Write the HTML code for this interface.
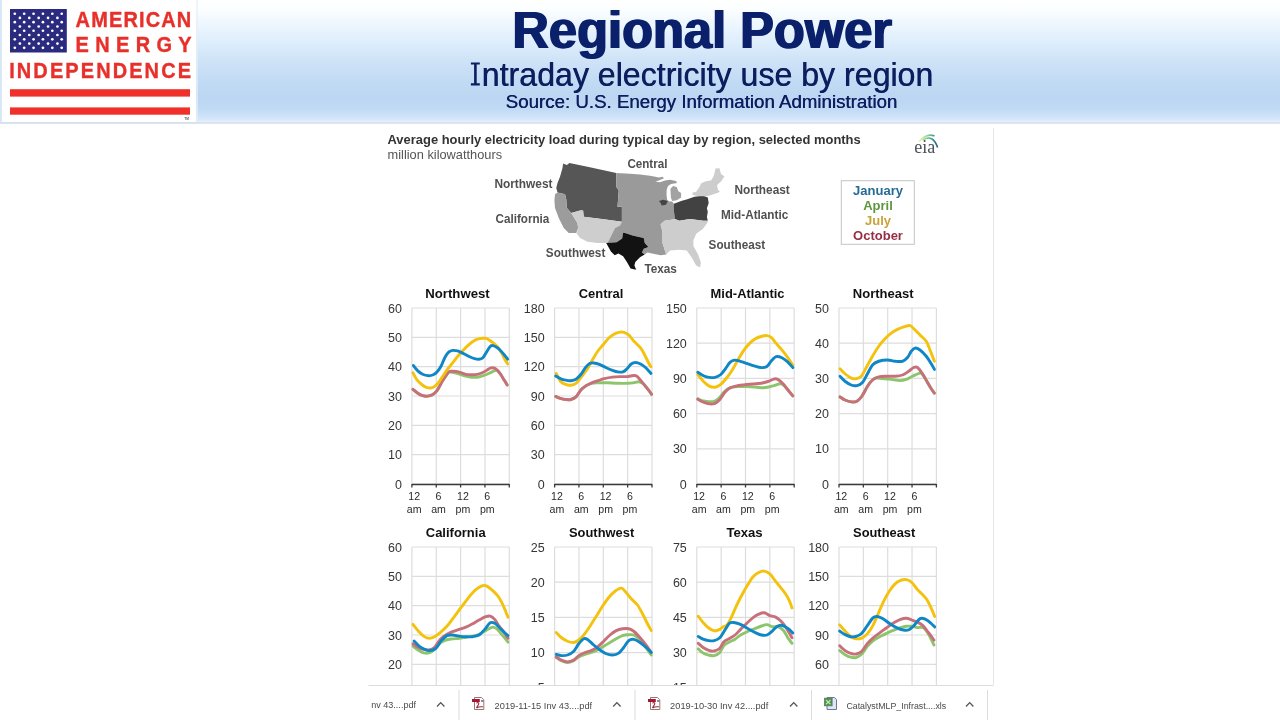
<!DOCTYPE html>
<html><head><meta charset="utf-8"><title>Regional Power</title>
<style>
html,body{margin:0;padding:0;}
body{width:1280px;height:720px;overflow:hidden;position:relative;background:#ffffff;font-family:'Liberation Sans', sans-serif;}
#hdr{position:absolute;left:0;top:0;width:1280px;height:124px;
background:linear-gradient(to bottom,#ffffff 0px,#fbfeff 10px,#ecf6fe 25px,#e0effc 40px,#d3e6f9 55px,#c9dff6 70px,#c0daf4 85px,#bcd6f3 98px,#c0d9f4 108px,#cfe3f8 117px,#d8eafb 120px,#e2eefb 121.5px,#d8e3ee 122.3px,#dae2eb 123.4px,#f6f8fb 124px);}
svg text{font-family:'Liberation Sans', sans-serif;}
.yl{font-size:12.5px;fill:#363636;}
.xl{font-size:10.6px;fill:#2a2a2a;}
.ct{font-size:13.2px;font-weight:bold;fill:#111;}
.ml{font-size:12.3px;font-weight:bold;fill:#505050;}
.lg{font-size:13px;font-weight:bold;}
.dl{font-size:9.6px;fill:#4a4a4a;}
</style></head>
<body>
<div id="hdr"></div>
<svg width="1280" height="720" viewBox="0 0 1280 720" style="position:absolute;left:0;top:0;will-change:transform">
<defs>
<linearGradient id="arc1" x1="0" y1="0" x2="1" y2="0"><stop offset="0" stop-color="#eef29a"/><stop offset="0.5" stop-color="#9ad8a0"/><stop offset="1" stop-color="#3f9a80"/></linearGradient>
<linearGradient id="arc2" x1="0" y1="0" x2="1" y2="0"><stop offset="0" stop-color="#c4e48e"/><stop offset="0.5" stop-color="#4aae92"/><stop offset="1" stop-color="#245f8c"/></linearGradient>
</defs>
<!-- logo box -->
<rect x="0" y="0" width="196" height="122.5" fill="#ffffff"/>
<rect x="196" y="0" width="2" height="122.5" fill="#e6f0fa" opacity="0.7"/>
<rect x="0" y="0" width="2" height="123" fill="#d9e8f5"/>
<rect x="0" y="122" width="198" height="1.5" fill="#d5e1ee"/>
<rect x="10" y="9" width="56.8" height="43.5" fill="#2a2b7e"/>
<g fill="#ffffff"><circle cx="14.80" cy="13.75" r="1.35"/><circle cx="24.18" cy="13.75" r="1.35"/><circle cx="33.56" cy="13.75" r="1.35"/><circle cx="42.94" cy="13.75" r="1.35"/><circle cx="52.32" cy="13.75" r="1.35"/><circle cx="61.70" cy="13.75" r="1.35"/><circle cx="19.90" cy="17.95" r="1.35"/><circle cx="29.28" cy="17.95" r="1.35"/><circle cx="38.66" cy="17.95" r="1.35"/><circle cx="48.04" cy="17.95" r="1.35"/><circle cx="57.42" cy="17.95" r="1.35"/><circle cx="14.80" cy="22.20" r="1.35"/><circle cx="24.18" cy="22.20" r="1.35"/><circle cx="33.56" cy="22.20" r="1.35"/><circle cx="42.94" cy="22.20" r="1.35"/><circle cx="52.32" cy="22.20" r="1.35"/><circle cx="61.70" cy="22.20" r="1.35"/><circle cx="19.90" cy="26.50" r="1.35"/><circle cx="29.28" cy="26.50" r="1.35"/><circle cx="38.66" cy="26.50" r="1.35"/><circle cx="48.04" cy="26.50" r="1.35"/><circle cx="57.42" cy="26.50" r="1.35"/><circle cx="14.80" cy="30.75" r="1.35"/><circle cx="24.18" cy="30.75" r="1.35"/><circle cx="33.56" cy="30.75" r="1.35"/><circle cx="42.94" cy="30.75" r="1.35"/><circle cx="52.32" cy="30.75" r="1.35"/><circle cx="61.70" cy="30.75" r="1.35"/><circle cx="19.90" cy="35.00" r="1.35"/><circle cx="29.28" cy="35.00" r="1.35"/><circle cx="38.66" cy="35.00" r="1.35"/><circle cx="48.04" cy="35.00" r="1.35"/><circle cx="57.42" cy="35.00" r="1.35"/><circle cx="14.80" cy="39.30" r="1.35"/><circle cx="24.18" cy="39.30" r="1.35"/><circle cx="33.56" cy="39.30" r="1.35"/><circle cx="42.94" cy="39.30" r="1.35"/><circle cx="52.32" cy="39.30" r="1.35"/><circle cx="61.70" cy="39.30" r="1.35"/><circle cx="19.90" cy="43.60" r="1.35"/><circle cx="29.28" cy="43.60" r="1.35"/><circle cx="38.66" cy="43.60" r="1.35"/><circle cx="48.04" cy="43.60" r="1.35"/><circle cx="57.42" cy="43.60" r="1.35"/><circle cx="14.80" cy="47.85" r="1.35"/><circle cx="24.18" cy="47.85" r="1.35"/><circle cx="33.56" cy="47.85" r="1.35"/><circle cx="42.94" cy="47.85" r="1.35"/><circle cx="52.32" cy="47.85" r="1.35"/><circle cx="61.70" cy="47.85" r="1.35"/></g>
<text transform="translate(75.6,26.7) scale(0.9,1)" x="0" y="0" fill="#e8302b" stroke="#e8302b" stroke-width="0.4" style="font-size:22.2px;font-weight:bold" textLength="128.5" lengthAdjust="spacing">AMERICAN</text>
<text transform="translate(75.6,52.2) scale(0.9,1)" x="0" y="0" fill="#e8302b" stroke="#e8302b" stroke-width="0.4" style="font-size:22.2px;font-weight:bold" textLength="129" lengthAdjust="spacing">ENERGY</text>
<text transform="translate(9.2,78.3) scale(0.9,1)" x="0" y="0" fill="#e8302b" stroke="#e8302b" stroke-width="0.4" style="font-size:22.2px;font-weight:bold" textLength="202" lengthAdjust="spacing">INDEPENDENCE</text>
<rect x="10" y="89.2" width="180" height="7.4" fill="#f0302a"/>
<rect x="10" y="107.4" width="180" height="7.3" fill="#f0302a"/>
<text x="184.2" y="120.2" fill="#666" style="font-size:3.2px;font-weight:bold">TM</text>
<!-- titles -->
<g fill="#0b206a" style="font-size:51px;font-weight:bold"><text x="511.5" y="47.9" textLength="379.7" lengthAdjust="spacingAndGlyphs">Regional Power</text><text x="513.3" y="47.9" textLength="379.7" lengthAdjust="spacingAndGlyphs">Regional Power</text></g>
<path fill="#0c1e5e" d="M470.9 62.4 H479.8 V64.6 H476.7 V83.3 H479.8 V85.5 H470.9 V83.3 H474.1 V64.6 H470.9 Z"/>
<g fill="#0c1e5e" style="font-size:33.6px"><text x="481.6" y="85.5" textLength="451.5" lengthAdjust="spacingAndGlyphs">ntraday electricity use by region</text><text x="482.1" y="85.5" textLength="451.5" lengthAdjust="spacingAndGlyphs">ntraday electricity use by region</text></g>
<g fill="#0c1e5e" style="font-size:18.3px"><text x="505.6" y="108.3" textLength="391.6" lengthAdjust="spacingAndGlyphs">Source: U.S. Energy Information Administration</text><text x="506" y="108.3" textLength="391.6" lengthAdjust="spacingAndGlyphs">Source: U.S. Energy Information Administration</text></g>
<!-- chart frame right border -->
<line x1="993.5" y1="128" x2="993.5" y2="685" stroke="#e6e6e6" stroke-width="1"/>
<!-- chart title -->
<text x="387.5" y="144" fill="#333" style="font-size:13px;font-weight:bold" textLength="473.2" lengthAdjust="spacingAndGlyphs">Average hourly electricity load during typical day by region, selected months</text>
<text x="387.6" y="158.9" fill="#555" style="font-size:13px" textLength="114.5" lengthAdjust="spacingAndGlyphs">million kilowatthours</text>
<!-- eia logo -->
<path d="M919 141.5 Q927 132.5 934.5 136" fill="none" stroke="url(#arc1)" stroke-width="1.7"/>
<path d="M922.5 140.2 Q933 133.5 937.6 147.5" fill="none" stroke="url(#arc2)" stroke-width="1.6"/>
<text x="914.2" y="152.7" fill="#48505c" style="font-family:'Liberation Serif',serif;font-size:18px">eia</text>
<!-- map -->

<g stroke="none">
<!-- Northwest -->
<path fill="#565656" d="M563.1 163.6 L566.9 164.9 L569.4 163 L587.5 166.75 L602.5 169.9 L616.25 173 L616.25 186.75 L618.75 190.5 L618.1 199.25 L617.5 206.75 L621.9 206.75 L621.9 221.75 L603.75 219.25 L583.75 216.75 L583.1 210.5 L580 210.5 L571.25 213 L566.9 208 L566.25 199.25 L565 194.25 L557.5 192.4 L556.25 188 L557.5 183 L560 176.75 L562.5 168 Z"/>
<!-- California -->
<path fill="#9c9c9c" d="M555 194.25 L557.5 192.4 L565 194.25 L566.25 199.25 L566.9 208 L571.25 213 L577.5 223 L578.1 228 L576.25 233 L568.75 233 L563.75 228 L558.75 218 L555 208 L554.4 200.5 Z"/>
<!-- Southwest -->
<path fill="#cecece" d="M571.25 213 L580 210.5 L583.1 210.5 L583.75 216.75 L603.75 219.25 L621.9 221.75 L620 225.5 L615 228 L612.5 233 L610 238 L607.5 243 L597.5 243 L587.5 241.75 L580 238 L576.25 233 L578.1 228 L577.5 223 Z"/>
<!-- Central -->
<path fill="#9a9a9a" d="M616.25 173 L630 173.8 L640 174.5 L650 175.8 L655.3 176.7 L658.9 177.6 L662.4 176.8 L664 178.2 L660 180 L655.5 181.7 L660 182.3 L665 180.5 L670 179.8 L676 181 L677 183 L671 184 L668 186 L666.6 190 L666.6 196 L667.2 200 L669.5 201.6 L672 201.6 L674 203.8 L673.6 206.4 L674 211.8 L674.9 218.9 L670 220 L666 220 L662.5 222.5 L660.6 224.4 L662.5 231.9 L662.5 243.1 L666.2 254.4 L660.6 255.3 L652 253.5 L647.5 252.5 L644.7 254.4 L641.9 252.5 L643.7 248.7 L648.4 246.9 L644.7 243.1 L643.7 238 L639 237 L632.5 235.6 L625.9 233.3 L623.1 232.8 L622.2 238.4 L616.6 242.2 L607.5 243 L610 238 L612.5 233 L615 228 L620 225.5 L621.9 221.75 L621.9 206.75 L617.5 206.75 L618.1 199.25 L618.75 190.5 L616.25 186.75 Z"/>
<!-- Lower Michigan -->
<path fill="#a2a2a2" d="M670.4 188.7 L673.1 186 L676.7 186.9 L678.4 191.3 L681.1 193.1 L681.1 197.6 L676.7 200.2 L672.2 201.1 L670.9 197.6 Z"/>
<!-- Chicago patch -->
<path fill="#444444" d="M658.9 201.1 L663.3 199.8 L667.8 201.1 L666 204.7 L661.6 205.6 L660.7 202.9 Z"/>
<!-- Mid-Atlantic -->
<path fill="#424242" d="M674 203.8 L681.1 201.1 L687.3 199.3 L694.4 196.7 L703.3 195.8 L707.8 197.6 L708.7 202.9 L706.9 208.2 L707.8 211.8 L706.9 217.1 L707.8 220.7 L703.3 220.7 L690 218.9 L679.3 220.7 L674.9 218.9 L674 211.8 L673.6 206.4 Z"/>
<!-- Northeast -->
<path fill="#cdcdcd" d="M692.5 192.5 L696 192 L699.5 187 L701 183.5 L705 181.5 L711 180.5 L713.3 177 L714.5 173 L715.5 168.5 L719.5 168.3 L721 174 L724.5 176.5 L721 181.5 L717 185 L718 190 L720 191.5 L717.5 193 L714 194 L710 195.5 L706 196.2 L701 196.2 L696 195.8 L692.5 194.8 Z"/>
<!-- Southeast -->
<path fill="#cdcdcd" d="M662.5 222.5 L666 220 L670 220 L674.9 218.9 L679.3 220.7 L690 218.9 L703.3 220.7 L707.8 220.7 L707.5 222.5 L702.8 229 L696.2 233.7 L693.4 240.3 L693.4 246 L698.1 254.4 L700.9 262.8 L700 267.5 L696.2 265.6 L691.5 257.2 L686.8 250.6 L679.3 249.7 L670 250.6 L666.2 254.4 L662.5 243.1 L662.5 231.9 L660.6 224.4 Z"/>
<!-- Texas -->
<path fill="#121212" d="M623.1 232.8 L625.9 233.3 L632.5 235.6 L639 237 L643.7 238 L644.7 243.1 L648.4 246.9 L643.7 248.7 L641.9 252.5 L644.7 254.4 L640 257.2 L635.3 261.9 L634.4 265.6 L636.2 269.8 L630.6 268.4 L626.9 261.9 L623.1 256.2 L618.4 253.4 L614.7 255.3 L610.9 251.6 L606.2 243.1 L616.6 242.2 L622.2 238.4 Z"/>
</g>

<text x="494.4" y="187.9" class="ml" textLength="58.1" lengthAdjust="spacingAndGlyphs">Northwest</text>
<text x="495.5" y="222.9" class="ml" textLength="53.8" lengthAdjust="spacingAndGlyphs">California</text>
<text x="545.8" y="256.8" class="ml" textLength="59.5" lengthAdjust="spacingAndGlyphs">Southwest</text>
<text x="627.4" y="168.1" class="ml" textLength="40.1" lengthAdjust="spacingAndGlyphs">Central</text>
<text x="644.4" y="273.0" class="ml" textLength="32.5" lengthAdjust="spacingAndGlyphs">Texas</text>
<text x="734.5" y="193.7" class="ml" textLength="55.3" lengthAdjust="spacingAndGlyphs">Northeast</text>
<text x="721.1" y="218.7" class="ml" textLength="67.1" lengthAdjust="spacingAndGlyphs">Mid-Atlantic</text>
<text x="708.6" y="249.0" class="ml" textLength="56.6" lengthAdjust="spacingAndGlyphs">Southeast</text>
<!-- legend -->
<rect x="841.3" y="180.7" width="73" height="63.6" fill="#ffffff" stroke="#c4c4c4" stroke-width="1"/>
<text x="878" y="195" text-anchor="middle" class="lg" fill="#266b96">January</text>
<text x="878" y="210" text-anchor="middle" class="lg" fill="#5e9640">April</text>
<text x="878" y="225" text-anchor="middle" class="lg" fill="#c9a23a">July</text>
<text x="878" y="240" text-anchor="middle" class="lg" fill="#952f45">October</text>
<!-- charts -->
<line x1="411.9" y1="308.00" x2="509.3" y2="308.00" stroke="#dddddd" stroke-width="1.2"/>
<text x="401.9" y="312.60" text-anchor="end" class="yl">60</text>
<line x1="411.9" y1="337.33" x2="509.3" y2="337.33" stroke="#dddddd" stroke-width="1.2"/>
<text x="401.9" y="341.93" text-anchor="end" class="yl">50</text>
<line x1="411.9" y1="366.67" x2="509.3" y2="366.67" stroke="#dddddd" stroke-width="1.2"/>
<text x="401.9" y="371.27" text-anchor="end" class="yl">40</text>
<line x1="411.9" y1="396.00" x2="509.3" y2="396.00" stroke="#dddddd" stroke-width="1.2"/>
<text x="401.9" y="400.60" text-anchor="end" class="yl">30</text>
<line x1="411.9" y1="425.33" x2="509.3" y2="425.33" stroke="#dddddd" stroke-width="1.2"/>
<text x="401.9" y="429.93" text-anchor="end" class="yl">20</text>
<line x1="411.9" y1="454.67" x2="509.3" y2="454.67" stroke="#dddddd" stroke-width="1.2"/>
<text x="401.9" y="459.27" text-anchor="end" class="yl">10</text>
<line x1="411.9" y1="484.00" x2="509.3" y2="484.00" stroke="#dddddd" stroke-width="1.2"/>
<text x="401.9" y="488.60" text-anchor="end" class="yl">0</text>
<line x1="411.90" y1="308.0" x2="411.90" y2="484.0" stroke="#dddddd" stroke-width="1.2"/>
<line x1="436.25" y1="308.0" x2="436.25" y2="484.0" stroke="#dddddd" stroke-width="1.2"/>
<line x1="460.60" y1="308.0" x2="460.60" y2="484.0" stroke="#dddddd" stroke-width="1.2"/>
<line x1="484.95" y1="308.0" x2="484.95" y2="484.0" stroke="#dddddd" stroke-width="1.2"/>
<line x1="509.30" y1="308.0" x2="509.30" y2="484.0" stroke="#dddddd" stroke-width="1.2"/>
<line x1="411.9" y1="484.5" x2="509.3" y2="484.5" stroke="#3a3a3a" stroke-width="1.6"/>
<line x1="411.90" y1="484.0" x2="411.90" y2="487.5" stroke="#3a3a3a" stroke-width="1.3"/>
<line x1="436.25" y1="484.0" x2="436.25" y2="487.5" stroke="#3a3a3a" stroke-width="1.3"/>
<line x1="460.60" y1="484.0" x2="460.60" y2="487.5" stroke="#3a3a3a" stroke-width="1.3"/>
<line x1="484.95" y1="484.0" x2="484.95" y2="487.5" stroke="#3a3a3a" stroke-width="1.3"/>
<line x1="509.30" y1="484.0" x2="509.30" y2="487.5" stroke="#3a3a3a" stroke-width="1.3"/>
<text x="414.20" y="500.0" text-anchor="middle" class="xl">12</text>
<text x="414.20" y="512.6" text-anchor="middle" class="xl">am</text>
<text x="438.55" y="500.0" text-anchor="middle" class="xl">6</text>
<text x="438.55" y="512.6" text-anchor="middle" class="xl">am</text>
<text x="462.90" y="500.0" text-anchor="middle" class="xl">12</text>
<text x="462.90" y="512.6" text-anchor="middle" class="xl">pm</text>
<text x="487.25" y="500.0" text-anchor="middle" class="xl">6</text>
<text x="487.25" y="512.6" text-anchor="middle" class="xl">pm</text>
<text x="425.3" y="297.9" class="ct" textLength="64.4" lengthAdjust="spacingAndGlyphs">Northwest</text>
<path d="M412.90 389.30 C413.72 389.95 416.18 392.13 417.80 393.20 C419.42 394.27 420.98 395.22 422.60 395.70 C424.22 396.18 425.87 396.27 427.50 396.10 C429.13 395.93 430.78 395.67 432.40 394.70 C434.02 393.73 435.58 392.48 437.20 390.30 C438.82 388.12 440.63 384.03 442.10 381.60 C443.57 379.17 444.87 377.25 446.00 375.70 C447.13 374.15 447.77 372.87 448.90 372.30 C450.03 371.73 450.95 371.97 452.80 372.30 C454.65 372.63 457.83 373.65 460.00 374.30 C462.17 374.95 463.85 375.72 465.80 376.20 C467.75 376.68 469.75 377.03 471.70 377.20 C473.65 377.37 475.57 377.45 477.50 377.20 C479.43 376.95 481.35 376.35 483.30 375.70 C485.25 375.05 487.42 374.10 489.20 373.30 C490.98 372.50 492.62 371.37 494.00 370.90 C495.38 370.43 496.35 369.87 497.50 370.50 C498.65 371.13 499.85 373.18 500.90 374.70 C501.95 376.22 502.75 377.88 503.80 379.60 C504.85 381.32 506.63 384.10 507.20 385.00" fill="none" stroke="#8cc56c" stroke-width="2.9" stroke-linecap="round" stroke-linejoin="round"/>
<path d="M412.90 389.30 C413.72 389.95 416.18 392.13 417.80 393.20 C419.42 394.27 420.98 395.22 422.60 395.70 C424.22 396.18 425.87 396.27 427.50 396.10 C429.13 395.93 430.78 395.67 432.40 394.70 C434.02 393.73 435.58 392.48 437.20 390.30 C438.82 388.12 440.63 384.03 442.10 381.60 C443.57 379.17 444.87 377.33 446.00 375.70 C447.13 374.07 447.77 372.53 448.90 371.80 C450.03 371.07 451.18 371.30 452.80 371.30 C454.42 371.30 456.43 371.30 458.60 371.80 C460.77 372.30 463.62 373.82 465.80 374.30 C467.98 374.78 469.75 374.70 471.70 374.70 C473.65 374.70 475.57 374.70 477.50 374.30 C479.43 373.90 481.68 373.03 483.30 372.30 C484.92 371.57 485.90 370.63 487.20 369.90 C488.50 369.17 489.80 368.15 491.10 367.90 C492.40 367.65 493.87 367.90 495.00 368.40 C496.13 368.90 496.92 369.85 497.90 370.90 C498.88 371.95 499.92 373.25 500.90 374.70 C501.88 376.15 502.75 377.88 503.80 379.60 C504.85 381.32 506.63 384.10 507.20 385.00" fill="none" stroke="#c8707a" stroke-width="2.9" stroke-linecap="round" stroke-linejoin="round"/>
<path d="M412.90 372.80 C413.55 373.93 415.33 377.65 416.80 379.60 C418.27 381.55 420.08 383.20 421.70 384.50 C423.32 385.80 424.88 386.83 426.50 387.40 C428.12 387.97 429.93 388.15 431.40 387.90 C432.87 387.65 434.00 386.95 435.30 385.90 C436.60 384.85 437.90 383.30 439.20 381.60 C440.50 379.90 441.80 377.65 443.10 375.70 C444.40 373.75 445.70 371.68 447.00 369.90 C448.30 368.12 449.62 366.62 450.90 365.00 C452.18 363.38 453.42 361.82 454.70 360.20 C455.98 358.58 457.07 357.08 458.60 355.30 C460.13 353.52 462.37 351.12 463.90 349.50 C465.43 347.88 466.35 346.90 467.80 345.60 C469.25 344.30 470.98 342.77 472.60 341.70 C474.22 340.63 475.87 339.77 477.50 339.20 C479.13 338.63 480.93 338.45 482.40 338.30 C483.87 338.15 485.00 337.90 486.30 338.30 C487.60 338.70 488.92 339.82 490.20 340.70 C491.48 341.58 492.72 342.47 494.00 343.60 C495.28 344.73 496.60 345.88 497.90 347.50 C499.20 349.12 500.67 351.35 501.80 353.30 C502.93 355.25 503.72 357.42 504.70 359.20 C505.68 360.98 507.20 363.20 507.70 364.00" fill="none" stroke="#f4c20d" stroke-width="2.9" stroke-linecap="round" stroke-linejoin="round"/>
<path d="M413.40 365.50 C414.13 366.40 416.27 369.43 417.80 370.90 C419.33 372.37 420.82 373.50 422.60 374.30 C424.38 375.10 426.72 375.63 428.50 375.70 C430.28 375.77 431.85 375.35 433.30 374.70 C434.75 374.05 435.90 373.25 437.20 371.80 C438.50 370.35 439.80 368.43 441.10 366.00 C442.40 363.57 443.70 359.55 445.00 357.20 C446.30 354.85 447.60 353.03 448.90 351.90 C450.20 350.77 451.33 350.57 452.80 350.40 C454.27 350.23 456.50 350.65 457.70 350.90 C458.90 351.15 458.80 351.33 460.00 351.90 C461.20 352.47 463.28 353.48 464.90 354.30 C466.52 355.12 468.08 356.07 469.70 356.80 C471.32 357.53 473.05 358.30 474.60 358.70 C476.15 359.10 477.62 359.37 479.00 359.20 C480.38 359.03 481.68 358.83 482.90 357.70 C484.12 356.57 485.08 354.27 486.30 352.40 C487.52 350.53 489.07 347.63 490.20 346.50 C491.33 345.37 491.97 345.43 493.10 345.60 C494.23 345.77 495.70 346.62 497.00 347.50 C498.30 348.38 499.62 349.60 500.90 350.90 C502.18 352.20 503.57 353.92 504.70 355.30 C505.83 356.68 507.20 358.55 507.70 359.20" fill="none" stroke="#0f86c6" stroke-width="2.9" stroke-linecap="round" stroke-linejoin="round"/>
<line x1="554.6" y1="308.00" x2="652.0" y2="308.00" stroke="#dddddd" stroke-width="1.2"/>
<text x="544.6" y="312.60" text-anchor="end" class="yl">180</text>
<line x1="554.6" y1="337.33" x2="652.0" y2="337.33" stroke="#dddddd" stroke-width="1.2"/>
<text x="544.6" y="341.93" text-anchor="end" class="yl">150</text>
<line x1="554.6" y1="366.67" x2="652.0" y2="366.67" stroke="#dddddd" stroke-width="1.2"/>
<text x="544.6" y="371.27" text-anchor="end" class="yl">120</text>
<line x1="554.6" y1="396.00" x2="652.0" y2="396.00" stroke="#dddddd" stroke-width="1.2"/>
<text x="544.6" y="400.60" text-anchor="end" class="yl">90</text>
<line x1="554.6" y1="425.33" x2="652.0" y2="425.33" stroke="#dddddd" stroke-width="1.2"/>
<text x="544.6" y="429.93" text-anchor="end" class="yl">60</text>
<line x1="554.6" y1="454.67" x2="652.0" y2="454.67" stroke="#dddddd" stroke-width="1.2"/>
<text x="544.6" y="459.27" text-anchor="end" class="yl">30</text>
<line x1="554.6" y1="484.00" x2="652.0" y2="484.00" stroke="#dddddd" stroke-width="1.2"/>
<text x="544.6" y="488.60" text-anchor="end" class="yl">0</text>
<line x1="554.60" y1="308.0" x2="554.60" y2="484.0" stroke="#dddddd" stroke-width="1.2"/>
<line x1="578.95" y1="308.0" x2="578.95" y2="484.0" stroke="#dddddd" stroke-width="1.2"/>
<line x1="603.30" y1="308.0" x2="603.30" y2="484.0" stroke="#dddddd" stroke-width="1.2"/>
<line x1="627.65" y1="308.0" x2="627.65" y2="484.0" stroke="#dddddd" stroke-width="1.2"/>
<line x1="652.00" y1="308.0" x2="652.00" y2="484.0" stroke="#dddddd" stroke-width="1.2"/>
<line x1="554.6" y1="484.5" x2="652.0" y2="484.5" stroke="#3a3a3a" stroke-width="1.6"/>
<line x1="554.60" y1="484.0" x2="554.60" y2="487.5" stroke="#3a3a3a" stroke-width="1.3"/>
<line x1="578.95" y1="484.0" x2="578.95" y2="487.5" stroke="#3a3a3a" stroke-width="1.3"/>
<line x1="603.30" y1="484.0" x2="603.30" y2="487.5" stroke="#3a3a3a" stroke-width="1.3"/>
<line x1="627.65" y1="484.0" x2="627.65" y2="487.5" stroke="#3a3a3a" stroke-width="1.3"/>
<line x1="652.00" y1="484.0" x2="652.00" y2="487.5" stroke="#3a3a3a" stroke-width="1.3"/>
<text x="556.90" y="500.0" text-anchor="middle" class="xl">12</text>
<text x="556.90" y="512.6" text-anchor="middle" class="xl">am</text>
<text x="581.25" y="500.0" text-anchor="middle" class="xl">6</text>
<text x="581.25" y="512.6" text-anchor="middle" class="xl">am</text>
<text x="605.60" y="500.0" text-anchor="middle" class="xl">12</text>
<text x="605.60" y="512.6" text-anchor="middle" class="xl">pm</text>
<text x="629.95" y="500.0" text-anchor="middle" class="xl">6</text>
<text x="629.95" y="512.6" text-anchor="middle" class="xl">pm</text>
<text x="578.7" y="297.9" class="ct" textLength="44.6" lengthAdjust="spacingAndGlyphs">Central</text>
<path d="M555.70 396.40 C556.48 396.73 558.75 397.88 560.40 398.40 C562.05 398.92 563.87 399.32 565.60 399.50 C567.33 399.68 569.07 399.93 570.80 399.50 C572.53 399.07 574.26 398.55 576.00 396.90 C577.74 395.25 579.50 391.52 581.25 389.60 C583.00 387.68 584.76 386.45 586.50 385.40 C588.24 384.35 589.80 383.73 591.70 383.30 C593.60 382.87 595.30 382.88 597.90 382.80 C600.50 382.72 604.00 382.72 607.30 382.80 C610.60 382.88 614.23 383.22 617.70 383.30 C621.17 383.38 625.50 383.38 628.10 383.30 C630.70 383.22 631.57 383.05 633.30 382.80 C635.03 382.55 637.05 381.77 638.50 381.80 C639.95 381.83 640.95 382.40 642.00 383.00 C643.05 383.60 643.63 384.13 644.80 385.40 C645.97 386.67 647.87 389.12 649.00 390.60 C650.13 392.08 651.17 393.68 651.60 394.30" fill="none" stroke="#8cc56c" stroke-width="2.9" stroke-linecap="round" stroke-linejoin="round"/>
<path d="M555.70 396.40 C556.48 396.73 558.75 397.88 560.40 398.40 C562.05 398.92 563.87 399.32 565.60 399.50 C567.33 399.68 569.07 399.93 570.80 399.50 C572.53 399.07 574.26 398.55 576.00 396.90 C577.74 395.25 579.50 391.52 581.25 389.60 C583.00 387.68 584.76 386.53 586.50 385.40 C588.24 384.27 589.80 383.58 591.70 382.80 C593.60 382.02 595.82 381.40 597.90 380.70 C599.98 380.00 601.77 379.20 604.20 378.60 C606.63 378.00 609.73 377.43 612.50 377.10 C615.27 376.77 618.37 376.68 620.80 376.60 C623.23 376.52 625.02 376.78 627.10 376.60 C629.18 376.42 631.73 375.60 633.30 375.50 C634.87 375.40 635.28 375.22 636.50 376.00 C637.72 376.78 639.22 378.63 640.60 380.20 C641.98 381.77 643.40 383.67 644.80 385.40 C646.20 387.13 647.87 389.12 649.00 390.60 C650.13 392.08 651.17 393.68 651.60 394.30" fill="none" stroke="#c8707a" stroke-width="2.9" stroke-linecap="round" stroke-linejoin="round"/>
<path d="M556.25 373.40 C556.94 374.71 558.84 379.42 560.40 381.25 C561.96 383.08 563.87 383.74 565.60 384.40 C567.33 385.06 569.07 385.38 570.80 385.20 C572.53 385.02 574.26 384.67 576.00 383.30 C577.74 381.93 579.33 379.43 581.25 377.00 C583.17 374.57 585.59 371.68 587.50 368.75 C589.41 365.82 590.97 362.36 592.70 359.40 C594.43 356.44 596.17 353.43 597.90 351.00 C599.63 348.57 601.37 346.88 603.10 344.80 C604.83 342.72 606.57 340.23 608.30 338.50 C610.03 336.77 611.76 335.43 613.50 334.40 C615.24 333.37 617.00 332.65 618.75 332.30 C620.50 331.95 622.26 331.78 624.00 332.30 C625.74 332.82 627.47 333.83 629.20 335.40 C630.93 336.97 632.50 339.62 634.40 341.70 C636.30 343.78 638.87 345.65 640.60 347.90 C642.33 350.15 643.40 352.60 644.80 355.20 C646.20 357.80 647.97 361.58 649.00 363.50 C650.03 365.42 650.67 366.17 651.00 366.70" fill="none" stroke="#f4c20d" stroke-width="2.9" stroke-linecap="round" stroke-linejoin="round"/>
<path d="M555.70 376.00 C556.48 376.43 558.75 377.90 560.40 378.60 C562.05 379.30 563.87 379.85 565.60 380.20 C567.33 380.55 569.07 380.87 570.80 380.70 C572.53 380.53 574.26 380.32 576.00 379.20 C577.74 378.08 579.68 375.92 581.25 374.00 C582.82 372.08 584.01 369.45 585.40 367.70 C586.79 365.95 588.21 364.28 589.60 363.50 C590.99 362.72 592.02 362.82 593.75 363.00 C595.48 363.18 597.92 363.82 600.00 364.60 C602.08 365.38 604.17 366.75 606.25 367.70 C608.33 368.65 610.59 369.60 612.50 370.30 C614.41 371.00 615.97 371.63 617.70 371.90 C619.43 372.17 621.35 372.42 622.90 371.90 C624.45 371.38 625.61 370.07 627.00 368.75 C628.39 367.43 629.85 365.04 631.25 364.00 C632.65 362.96 633.84 362.50 635.40 362.50 C636.96 362.50 638.87 363.13 640.60 364.00 C642.33 364.87 644.07 366.13 645.80 367.70 C647.53 369.27 650.13 372.45 651.00 373.40" fill="none" stroke="#0f86c6" stroke-width="2.9" stroke-linecap="round" stroke-linejoin="round"/>
<line x1="696.8" y1="308.00" x2="794.2" y2="308.00" stroke="#dddddd" stroke-width="1.2"/>
<text x="686.8" y="312.60" text-anchor="end" class="yl">150</text>
<line x1="696.8" y1="343.20" x2="794.2" y2="343.20" stroke="#dddddd" stroke-width="1.2"/>
<text x="686.8" y="347.80" text-anchor="end" class="yl">120</text>
<line x1="696.8" y1="378.40" x2="794.2" y2="378.40" stroke="#dddddd" stroke-width="1.2"/>
<text x="686.8" y="383.00" text-anchor="end" class="yl">90</text>
<line x1="696.8" y1="413.60" x2="794.2" y2="413.60" stroke="#dddddd" stroke-width="1.2"/>
<text x="686.8" y="418.20" text-anchor="end" class="yl">60</text>
<line x1="696.8" y1="448.80" x2="794.2" y2="448.80" stroke="#dddddd" stroke-width="1.2"/>
<text x="686.8" y="453.40" text-anchor="end" class="yl">30</text>
<line x1="696.8" y1="484.00" x2="794.2" y2="484.00" stroke="#dddddd" stroke-width="1.2"/>
<text x="686.8" y="488.60" text-anchor="end" class="yl">0</text>
<line x1="696.80" y1="308.0" x2="696.80" y2="484.0" stroke="#dddddd" stroke-width="1.2"/>
<line x1="721.15" y1="308.0" x2="721.15" y2="484.0" stroke="#dddddd" stroke-width="1.2"/>
<line x1="745.50" y1="308.0" x2="745.50" y2="484.0" stroke="#dddddd" stroke-width="1.2"/>
<line x1="769.85" y1="308.0" x2="769.85" y2="484.0" stroke="#dddddd" stroke-width="1.2"/>
<line x1="794.20" y1="308.0" x2="794.20" y2="484.0" stroke="#dddddd" stroke-width="1.2"/>
<line x1="696.8" y1="484.5" x2="794.2" y2="484.5" stroke="#3a3a3a" stroke-width="1.6"/>
<line x1="696.80" y1="484.0" x2="696.80" y2="487.5" stroke="#3a3a3a" stroke-width="1.3"/>
<line x1="721.15" y1="484.0" x2="721.15" y2="487.5" stroke="#3a3a3a" stroke-width="1.3"/>
<line x1="745.50" y1="484.0" x2="745.50" y2="487.5" stroke="#3a3a3a" stroke-width="1.3"/>
<line x1="769.85" y1="484.0" x2="769.85" y2="487.5" stroke="#3a3a3a" stroke-width="1.3"/>
<line x1="794.20" y1="484.0" x2="794.20" y2="487.5" stroke="#3a3a3a" stroke-width="1.3"/>
<text x="699.10" y="500.0" text-anchor="middle" class="xl">12</text>
<text x="699.10" y="512.6" text-anchor="middle" class="xl">am</text>
<text x="723.45" y="500.0" text-anchor="middle" class="xl">6</text>
<text x="723.45" y="512.6" text-anchor="middle" class="xl">am</text>
<text x="747.80" y="500.0" text-anchor="middle" class="xl">12</text>
<text x="747.80" y="512.6" text-anchor="middle" class="xl">pm</text>
<text x="772.15" y="500.0" text-anchor="middle" class="xl">6</text>
<text x="772.15" y="512.6" text-anchor="middle" class="xl">pm</text>
<text x="710.6" y="297.9" class="ct" textLength="73.9" lengthAdjust="spacingAndGlyphs">Mid-Atlantic</text>
<path d="M697.80 398.70 C698.75 399.08 701.58 400.52 703.50 401.00 C705.42 401.48 707.38 401.60 709.30 401.60 C711.22 401.60 713.28 401.67 715.00 401.00 C716.72 400.33 718.05 399.13 719.60 397.60 C721.15 396.07 722.57 393.43 724.30 391.80 C726.03 390.17 727.70 388.67 730.00 387.80 C732.30 386.93 735.22 386.80 738.10 386.60 C740.98 386.40 744.23 386.50 747.30 386.60 C750.37 386.70 753.82 387.00 756.50 387.20 C759.18 387.40 761.10 387.90 763.40 387.80 C765.70 387.70 768.18 387.08 770.30 386.60 C772.42 386.12 774.55 385.37 776.10 384.90 C777.65 384.43 778.45 383.87 779.60 383.80 C780.75 383.73 781.67 383.55 783.00 384.50 C784.33 385.45 785.97 387.60 787.60 389.50 C789.23 391.40 791.93 394.83 792.80 395.90" fill="none" stroke="#8cc56c" stroke-width="2.9" stroke-linecap="round" stroke-linejoin="round"/>
<path d="M697.80 399.30 C698.75 399.78 701.58 401.43 703.50 402.20 C705.42 402.97 707.38 403.72 709.30 403.90 C711.22 404.08 713.28 403.97 715.00 403.30 C716.72 402.63 718.05 401.62 719.60 399.90 C721.15 398.18 722.75 394.92 724.30 393.00 C725.85 391.08 726.98 389.55 728.90 388.40 C730.82 387.25 733.32 386.68 735.80 386.10 C738.28 385.52 740.92 385.25 743.80 384.90 C746.68 384.55 750.22 384.28 753.10 384.00 C755.98 383.72 758.62 383.62 761.10 383.20 C763.58 382.78 765.88 382.18 768.00 381.50 C770.12 380.82 772.25 379.50 773.80 379.10 C775.35 378.70 775.77 378.33 777.30 379.10 C778.83 379.87 781.28 381.97 783.00 383.70 C784.72 385.43 785.97 387.47 787.60 389.50 C789.23 391.53 791.93 394.83 792.80 395.90" fill="none" stroke="#c8707a" stroke-width="2.9" stroke-linecap="round" stroke-linejoin="round"/>
<path d="M697.80 374.50 C698.75 375.67 701.58 379.57 703.50 381.50 C705.42 383.43 707.38 385.15 709.30 386.10 C711.22 387.05 713.08 387.50 715.00 387.20 C716.92 386.90 718.87 385.83 720.80 384.30 C722.73 382.77 724.68 380.40 726.60 378.00 C728.52 375.60 730.38 372.97 732.30 369.90 C734.22 366.83 736.18 362.87 738.10 359.60 C740.02 356.33 741.88 353.00 743.80 350.30 C745.72 347.60 747.67 345.32 749.60 343.40 C751.53 341.48 753.48 339.95 755.40 338.80 C757.32 337.65 759.18 337.03 761.10 336.50 C763.02 335.97 765.17 335.40 766.90 335.60 C768.63 335.80 769.97 336.40 771.50 337.70 C773.03 339.00 774.37 341.38 776.10 343.40 C777.83 345.42 779.98 347.48 781.90 349.80 C783.82 352.12 785.78 354.72 787.60 357.30 C789.42 359.88 791.93 363.97 792.80 365.30" fill="none" stroke="#f4c20d" stroke-width="2.9" stroke-linecap="round" stroke-linejoin="round"/>
<path d="M697.80 372.20 C698.75 372.78 701.58 374.83 703.50 375.70 C705.42 376.57 707.38 377.12 709.30 377.40 C711.22 377.68 713.08 377.88 715.00 377.40 C716.92 376.92 719.07 375.93 720.80 374.50 C722.53 373.07 723.87 370.82 725.40 368.80 C726.93 366.78 728.47 363.85 730.00 362.40 C731.53 360.95 732.87 360.28 734.60 360.10 C736.33 359.92 738.28 360.72 740.40 361.30 C742.52 361.88 745.00 362.83 747.30 363.60 C749.60 364.37 751.90 365.23 754.20 365.90 C756.50 366.57 758.98 367.50 761.10 367.60 C763.22 367.70 765.17 367.65 766.90 366.50 C768.63 365.35 769.97 362.33 771.50 360.70 C773.03 359.07 774.37 357.18 776.10 356.70 C777.83 356.22 779.98 356.93 781.90 357.80 C783.82 358.67 785.78 360.27 787.60 361.90 C789.42 363.53 791.93 366.65 792.80 367.60" fill="none" stroke="#0f86c6" stroke-width="2.9" stroke-linecap="round" stroke-linejoin="round"/>
<line x1="839.0" y1="308.00" x2="936.4" y2="308.00" stroke="#dddddd" stroke-width="1.2"/>
<text x="829.0" y="312.60" text-anchor="end" class="yl">50</text>
<line x1="839.0" y1="343.20" x2="936.4" y2="343.20" stroke="#dddddd" stroke-width="1.2"/>
<text x="829.0" y="347.80" text-anchor="end" class="yl">40</text>
<line x1="839.0" y1="378.40" x2="936.4" y2="378.40" stroke="#dddddd" stroke-width="1.2"/>
<text x="829.0" y="383.00" text-anchor="end" class="yl">30</text>
<line x1="839.0" y1="413.60" x2="936.4" y2="413.60" stroke="#dddddd" stroke-width="1.2"/>
<text x="829.0" y="418.20" text-anchor="end" class="yl">20</text>
<line x1="839.0" y1="448.80" x2="936.4" y2="448.80" stroke="#dddddd" stroke-width="1.2"/>
<text x="829.0" y="453.40" text-anchor="end" class="yl">10</text>
<line x1="839.0" y1="484.00" x2="936.4" y2="484.00" stroke="#dddddd" stroke-width="1.2"/>
<text x="829.0" y="488.60" text-anchor="end" class="yl">0</text>
<line x1="839.00" y1="308.0" x2="839.00" y2="484.0" stroke="#dddddd" stroke-width="1.2"/>
<line x1="863.35" y1="308.0" x2="863.35" y2="484.0" stroke="#dddddd" stroke-width="1.2"/>
<line x1="887.70" y1="308.0" x2="887.70" y2="484.0" stroke="#dddddd" stroke-width="1.2"/>
<line x1="912.05" y1="308.0" x2="912.05" y2="484.0" stroke="#dddddd" stroke-width="1.2"/>
<line x1="936.40" y1="308.0" x2="936.40" y2="484.0" stroke="#dddddd" stroke-width="1.2"/>
<line x1="839.0" y1="484.5" x2="936.4" y2="484.5" stroke="#3a3a3a" stroke-width="1.6"/>
<line x1="839.00" y1="484.0" x2="839.00" y2="487.5" stroke="#3a3a3a" stroke-width="1.3"/>
<line x1="863.35" y1="484.0" x2="863.35" y2="487.5" stroke="#3a3a3a" stroke-width="1.3"/>
<line x1="887.70" y1="484.0" x2="887.70" y2="487.5" stroke="#3a3a3a" stroke-width="1.3"/>
<line x1="912.05" y1="484.0" x2="912.05" y2="487.5" stroke="#3a3a3a" stroke-width="1.3"/>
<line x1="936.40" y1="484.0" x2="936.40" y2="487.5" stroke="#3a3a3a" stroke-width="1.3"/>
<text x="841.30" y="500.0" text-anchor="middle" class="xl">12</text>
<text x="841.30" y="512.6" text-anchor="middle" class="xl">am</text>
<text x="865.65" y="500.0" text-anchor="middle" class="xl">6</text>
<text x="865.65" y="512.6" text-anchor="middle" class="xl">am</text>
<text x="890.00" y="500.0" text-anchor="middle" class="xl">12</text>
<text x="890.00" y="512.6" text-anchor="middle" class="xl">pm</text>
<text x="914.35" y="500.0" text-anchor="middle" class="xl">6</text>
<text x="914.35" y="512.6" text-anchor="middle" class="xl">pm</text>
<text x="852.8" y="297.9" class="ct" textLength="60.9" lengthAdjust="spacingAndGlyphs">Northeast</text>
<path d="M840.00 396.90 C840.83 397.42 843.12 399.17 845.00 400.00 C846.88 400.83 849.27 401.69 851.25 401.90 C853.23 402.11 855.12 402.19 856.90 401.25 C858.67 400.31 860.13 398.75 861.90 396.25 C863.67 393.75 865.73 388.96 867.50 386.25 C869.27 383.54 871.04 381.36 872.50 380.00 C873.96 378.64 874.17 378.31 876.25 378.10 C878.33 377.89 882.50 378.53 885.00 378.75 C887.50 378.97 888.75 379.09 891.25 379.40 C893.75 379.71 897.50 380.60 900.00 380.60 C902.50 380.60 904.17 380.12 906.25 379.40 C908.33 378.67 910.21 377.30 912.50 376.25 C914.79 375.20 918.25 373.31 920.00 373.10 C921.75 372.89 921.75 373.43 923.00 375.00 C924.25 376.57 926.12 380.21 927.50 382.50 C928.88 384.79 930.10 386.98 931.25 388.75 C932.40 390.52 933.88 392.38 934.40 393.10" fill="none" stroke="#8cc56c" stroke-width="2.9" stroke-linecap="round" stroke-linejoin="round"/>
<path d="M840.00 396.90 C840.83 397.42 843.12 399.17 845.00 400.00 C846.88 400.83 849.27 401.69 851.25 401.90 C853.23 402.11 855.12 402.19 856.90 401.25 C858.67 400.31 860.13 398.75 861.90 396.25 C863.67 393.75 865.73 388.96 867.50 386.25 C869.27 383.54 870.62 381.56 872.50 380.00 C874.38 378.44 876.25 377.52 878.75 376.90 C881.25 376.27 884.79 376.36 887.50 376.25 C890.21 376.14 892.50 376.46 895.00 376.25 C897.50 376.04 900.21 375.83 902.50 375.00 C904.79 374.17 906.88 372.50 908.75 371.25 C910.62 370.00 912.29 368.12 913.75 367.50 C915.21 366.88 916.04 366.46 917.50 367.50 C918.96 368.54 920.83 371.25 922.50 373.75 C924.17 376.25 926.04 380.00 927.50 382.50 C928.96 385.00 930.10 386.98 931.25 388.75 C932.40 390.52 933.88 392.38 934.40 393.10" fill="none" stroke="#c8707a" stroke-width="2.9" stroke-linecap="round" stroke-linejoin="round"/>
<path d="M840.00 368.75 C840.83 369.58 843.12 372.19 845.00 373.75 C846.88 375.31 849.38 377.27 851.25 378.10 C853.12 378.93 854.58 379.06 856.25 378.75 C857.92 378.44 859.58 378.12 861.25 376.25 C862.92 374.38 864.38 370.83 866.25 367.50 C868.12 364.17 870.42 359.79 872.50 356.25 C874.58 352.71 876.67 349.17 878.75 346.25 C880.83 343.33 882.92 340.94 885.00 338.75 C887.08 336.56 889.17 334.66 891.25 333.10 C893.33 331.54 895.42 330.43 897.50 329.40 C899.58 328.37 901.67 327.53 903.75 326.90 C905.83 326.27 908.33 325.29 910.00 325.60 C911.67 325.91 912.08 327.18 913.75 328.75 C915.42 330.32 917.92 332.92 920.00 335.00 C922.08 337.08 924.58 338.75 926.25 341.25 C927.92 343.75 928.64 346.67 930.00 350.00 C931.36 353.33 933.67 359.38 934.40 361.25" fill="none" stroke="#f4c20d" stroke-width="2.9" stroke-linecap="round" stroke-linejoin="round"/>
<path d="M840.00 376.25 C840.83 377.08 843.12 379.79 845.00 381.25 C846.88 382.71 849.27 384.27 851.25 385.00 C853.23 385.73 855.02 386.02 856.90 385.60 C858.77 385.18 860.73 384.48 862.50 382.50 C864.27 380.52 865.83 376.67 867.50 373.75 C869.17 370.83 870.62 367.08 872.50 365.00 C874.38 362.92 876.25 362.08 878.75 361.25 C881.25 360.42 884.79 360.00 887.50 360.00 C890.21 360.00 892.50 361.04 895.00 361.25 C897.50 361.46 900.42 361.88 902.50 361.25 C904.58 360.62 906.04 359.17 907.50 357.50 C908.96 355.83 910.00 352.82 911.25 351.25 C912.50 349.68 913.54 348.31 915.00 348.10 C916.46 347.89 918.12 348.64 920.00 350.00 C921.88 351.36 924.38 353.96 926.25 356.25 C928.12 358.54 929.89 361.56 931.25 363.75 C932.61 365.94 933.88 368.46 934.40 369.40" fill="none" stroke="#0f86c6" stroke-width="2.9" stroke-linecap="round" stroke-linejoin="round"/>
<line x1="411.9" y1="547.00" x2="509.3" y2="547.00" stroke="#dddddd" stroke-width="1.2"/>
<text x="401.9" y="551.60" text-anchor="end" class="yl">60</text>
<line x1="411.9" y1="576.33" x2="509.3" y2="576.33" stroke="#dddddd" stroke-width="1.2"/>
<text x="401.9" y="580.93" text-anchor="end" class="yl">50</text>
<line x1="411.9" y1="605.67" x2="509.3" y2="605.67" stroke="#dddddd" stroke-width="1.2"/>
<text x="401.9" y="610.27" text-anchor="end" class="yl">40</text>
<line x1="411.9" y1="635.00" x2="509.3" y2="635.00" stroke="#dddddd" stroke-width="1.2"/>
<text x="401.9" y="639.60" text-anchor="end" class="yl">30</text>
<line x1="411.9" y1="664.33" x2="509.3" y2="664.33" stroke="#dddddd" stroke-width="1.2"/>
<text x="401.9" y="668.93" text-anchor="end" class="yl">20</text>
<line x1="411.9" y1="693.67" x2="509.3" y2="693.67" stroke="#dddddd" stroke-width="1.2"/>
<text x="401.9" y="698.27" text-anchor="end" class="yl">10</text>
<line x1="411.9" y1="723.00" x2="509.3" y2="723.00" stroke="#dddddd" stroke-width="1.2"/>
<text x="401.9" y="727.60" text-anchor="end" class="yl">0</text>
<line x1="411.90" y1="547.0" x2="411.90" y2="723.0" stroke="#dddddd" stroke-width="1.2"/>
<line x1="436.25" y1="547.0" x2="436.25" y2="723.0" stroke="#dddddd" stroke-width="1.2"/>
<line x1="460.60" y1="547.0" x2="460.60" y2="723.0" stroke="#dddddd" stroke-width="1.2"/>
<line x1="484.95" y1="547.0" x2="484.95" y2="723.0" stroke="#dddddd" stroke-width="1.2"/>
<line x1="509.30" y1="547.0" x2="509.30" y2="723.0" stroke="#dddddd" stroke-width="1.2"/>
<line x1="411.9" y1="723.5" x2="509.3" y2="723.5" stroke="#3a3a3a" stroke-width="1.6"/>
<line x1="411.90" y1="723.0" x2="411.90" y2="726.5" stroke="#3a3a3a" stroke-width="1.3"/>
<line x1="436.25" y1="723.0" x2="436.25" y2="726.5" stroke="#3a3a3a" stroke-width="1.3"/>
<line x1="460.60" y1="723.0" x2="460.60" y2="726.5" stroke="#3a3a3a" stroke-width="1.3"/>
<line x1="484.95" y1="723.0" x2="484.95" y2="726.5" stroke="#3a3a3a" stroke-width="1.3"/>
<line x1="509.30" y1="723.0" x2="509.30" y2="726.5" stroke="#3a3a3a" stroke-width="1.3"/>
<text x="414.20" y="739.0" text-anchor="middle" class="xl">12</text>
<text x="414.20" y="751.6" text-anchor="middle" class="xl">am</text>
<text x="438.55" y="739.0" text-anchor="middle" class="xl">6</text>
<text x="438.55" y="751.6" text-anchor="middle" class="xl">am</text>
<text x="462.90" y="739.0" text-anchor="middle" class="xl">12</text>
<text x="462.90" y="751.6" text-anchor="middle" class="xl">pm</text>
<text x="487.25" y="739.0" text-anchor="middle" class="xl">6</text>
<text x="487.25" y="751.6" text-anchor="middle" class="xl">pm</text>
<text x="425.8" y="536.9" class="ct" textLength="59.8" lengthAdjust="spacingAndGlyphs">California</text>
<path d="M413.00 646.10 C413.83 646.75 416.23 648.88 418.00 650.00 C419.77 651.12 421.75 652.33 423.60 652.80 C425.45 653.27 427.25 653.37 429.10 652.80 C430.95 652.23 432.85 651.07 434.70 649.40 C436.55 647.73 438.35 644.37 440.20 642.80 C442.05 641.23 443.77 640.65 445.80 640.00 C447.83 639.35 450.18 639.18 452.40 638.90 C454.62 638.62 456.87 638.58 459.10 638.30 C461.33 638.02 463.58 637.57 465.80 637.20 C468.02 636.83 470.18 636.57 472.40 636.10 C474.62 635.63 476.87 635.32 479.10 634.40 C481.33 633.48 483.58 631.80 485.80 630.60 C488.02 629.40 490.55 627.48 492.40 627.20 C494.25 626.92 495.42 627.78 496.90 628.90 C498.38 630.02 499.82 632.15 501.30 633.90 C502.78 635.65 504.68 638.02 505.80 639.40 C506.92 640.78 507.63 641.73 508.00 642.20" fill="none" stroke="#8cc56c" stroke-width="2.9" stroke-linecap="round" stroke-linejoin="round"/>
<path d="M413.00 643.90 C413.83 644.45 416.23 646.28 418.00 647.20 C419.77 648.12 421.75 648.93 423.60 649.40 C425.45 649.87 427.25 650.37 429.10 650.00 C430.95 649.63 432.85 648.97 434.70 647.20 C436.55 645.43 438.35 641.43 440.20 639.40 C442.05 637.37 443.77 636.28 445.80 635.00 C447.83 633.72 450.18 632.63 452.40 631.70 C454.62 630.77 456.87 630.15 459.10 629.40 C461.33 628.65 463.58 628.12 465.80 627.20 C468.02 626.28 470.18 625.10 472.40 623.90 C474.62 622.70 476.87 621.20 479.10 620.00 C481.33 618.80 483.95 617.35 485.80 616.70 C487.65 616.05 488.72 615.65 490.20 616.10 C491.68 616.55 493.22 617.73 494.70 619.40 C496.18 621.07 497.62 624.05 499.10 626.10 C500.58 628.15 502.12 629.67 503.60 631.70 C505.08 633.73 507.27 637.20 508.00 638.30" fill="none" stroke="#c8707a" stroke-width="2.9" stroke-linecap="round" stroke-linejoin="round"/>
<path d="M413.00 624.40 C413.83 625.43 416.23 628.65 418.00 630.60 C419.77 632.55 421.75 634.82 423.60 636.10 C425.45 637.38 427.25 638.20 429.10 638.30 C430.95 638.40 432.67 637.80 434.70 636.70 C436.73 635.60 439.08 633.65 441.30 631.70 C443.52 629.75 445.77 627.60 448.00 625.00 C450.23 622.40 452.48 619.07 454.70 616.10 C456.92 613.13 459.08 610.17 461.30 607.20 C463.52 604.23 465.77 601.07 468.00 598.30 C470.23 595.53 472.48 592.63 474.70 590.60 C476.92 588.57 479.45 586.93 481.30 586.10 C483.15 585.27 484.13 585.05 485.80 585.60 C487.47 586.15 489.27 587.65 491.30 589.40 C493.33 591.15 496.15 593.68 498.00 596.10 C499.85 598.52 501.10 601.30 502.40 603.90 C503.70 606.50 504.87 609.48 505.80 611.70 C506.73 613.92 507.63 616.28 508.00 617.20" fill="none" stroke="#f4c20d" stroke-width="2.9" stroke-linecap="round" stroke-linejoin="round"/>
<path d="M414.10 641.10 C414.93 641.93 417.33 644.72 419.10 646.10 C420.87 647.48 422.85 648.65 424.70 649.40 C426.55 650.15 428.35 650.78 430.20 650.60 C432.05 650.42 433.95 649.97 435.80 648.30 C437.65 646.63 439.45 642.72 441.30 640.60 C443.15 638.48 445.05 636.53 446.90 635.60 C448.75 634.67 450.37 634.92 452.40 635.00 C454.43 635.08 456.87 635.82 459.10 636.10 C461.33 636.38 463.58 636.60 465.80 636.70 C468.02 636.80 470.18 636.98 472.40 636.70 C474.62 636.42 477.05 636.22 479.10 635.00 C481.15 633.78 482.85 631.43 484.70 629.40 C486.55 627.37 488.53 623.82 490.20 622.80 C491.87 621.78 493.22 622.57 494.70 623.30 C496.18 624.03 497.62 625.80 499.10 627.20 C500.58 628.60 502.12 630.30 503.60 631.70 C505.08 633.10 507.27 634.95 508.00 635.60" fill="none" stroke="#0f86c6" stroke-width="2.9" stroke-linecap="round" stroke-linejoin="round"/>
<line x1="554.6" y1="547.00" x2="652.0" y2="547.00" stroke="#dddddd" stroke-width="1.2"/>
<text x="544.6" y="551.60" text-anchor="end" class="yl">25</text>
<line x1="554.6" y1="582.20" x2="652.0" y2="582.20" stroke="#dddddd" stroke-width="1.2"/>
<text x="544.6" y="586.80" text-anchor="end" class="yl">20</text>
<line x1="554.6" y1="617.40" x2="652.0" y2="617.40" stroke="#dddddd" stroke-width="1.2"/>
<text x="544.6" y="622.00" text-anchor="end" class="yl">15</text>
<line x1="554.6" y1="652.60" x2="652.0" y2="652.60" stroke="#dddddd" stroke-width="1.2"/>
<text x="544.6" y="657.20" text-anchor="end" class="yl">10</text>
<line x1="554.6" y1="687.80" x2="652.0" y2="687.80" stroke="#dddddd" stroke-width="1.2"/>
<text x="544.6" y="692.40" text-anchor="end" class="yl">5</text>
<line x1="554.6" y1="723.00" x2="652.0" y2="723.00" stroke="#dddddd" stroke-width="1.2"/>
<text x="544.6" y="727.60" text-anchor="end" class="yl">0</text>
<line x1="554.60" y1="547.0" x2="554.60" y2="723.0" stroke="#dddddd" stroke-width="1.2"/>
<line x1="578.95" y1="547.0" x2="578.95" y2="723.0" stroke="#dddddd" stroke-width="1.2"/>
<line x1="603.30" y1="547.0" x2="603.30" y2="723.0" stroke="#dddddd" stroke-width="1.2"/>
<line x1="627.65" y1="547.0" x2="627.65" y2="723.0" stroke="#dddddd" stroke-width="1.2"/>
<line x1="652.00" y1="547.0" x2="652.00" y2="723.0" stroke="#dddddd" stroke-width="1.2"/>
<line x1="554.6" y1="723.5" x2="652.0" y2="723.5" stroke="#3a3a3a" stroke-width="1.6"/>
<line x1="554.60" y1="723.0" x2="554.60" y2="726.5" stroke="#3a3a3a" stroke-width="1.3"/>
<line x1="578.95" y1="723.0" x2="578.95" y2="726.5" stroke="#3a3a3a" stroke-width="1.3"/>
<line x1="603.30" y1="723.0" x2="603.30" y2="726.5" stroke="#3a3a3a" stroke-width="1.3"/>
<line x1="627.65" y1="723.0" x2="627.65" y2="726.5" stroke="#3a3a3a" stroke-width="1.3"/>
<line x1="652.00" y1="723.0" x2="652.00" y2="726.5" stroke="#3a3a3a" stroke-width="1.3"/>
<text x="556.90" y="739.0" text-anchor="middle" class="xl">12</text>
<text x="556.90" y="751.6" text-anchor="middle" class="xl">am</text>
<text x="581.25" y="739.0" text-anchor="middle" class="xl">6</text>
<text x="581.25" y="751.6" text-anchor="middle" class="xl">am</text>
<text x="605.60" y="739.0" text-anchor="middle" class="xl">12</text>
<text x="605.60" y="751.6" text-anchor="middle" class="xl">pm</text>
<text x="629.95" y="739.0" text-anchor="middle" class="xl">6</text>
<text x="629.95" y="751.6" text-anchor="middle" class="xl">pm</text>
<text x="569.0" y="536.9" class="ct" textLength="65.2" lengthAdjust="spacingAndGlyphs">Southwest</text>
<path d="M556.25 657.50 C557.08 658.02 559.38 659.77 561.25 660.60 C563.12 661.43 565.42 662.50 567.50 662.50 C569.58 662.50 571.88 661.53 573.75 660.60 C575.62 659.67 576.88 657.93 578.75 656.90 C580.62 655.87 582.92 655.13 585.00 654.40 C587.08 653.67 589.17 653.23 591.25 652.50 C593.33 651.77 595.42 651.04 597.50 650.00 C599.58 648.96 601.67 647.50 603.75 646.25 C605.83 645.00 607.92 643.75 610.00 642.50 C612.08 641.25 614.17 639.90 616.25 638.75 C618.33 637.60 620.42 636.27 622.50 635.60 C624.58 634.93 626.88 634.85 628.75 634.75 C630.62 634.65 632.08 634.33 633.75 635.00 C635.42 635.67 636.88 636.88 638.75 638.75 C640.62 640.62 642.92 643.54 645.00 646.25 C647.08 648.96 650.21 653.54 651.25 655.00" fill="none" stroke="#8cc56c" stroke-width="2.9" stroke-linecap="round" stroke-linejoin="round"/>
<path d="M556.25 656.90 C557.08 657.42 559.38 659.17 561.25 660.00 C563.12 660.83 565.42 661.90 567.50 661.90 C569.58 661.90 571.88 661.05 573.75 660.00 C575.62 658.95 576.88 656.85 578.75 655.60 C580.62 654.35 582.92 653.33 585.00 652.50 C587.08 651.67 589.17 651.53 591.25 650.60 C593.33 649.67 595.42 648.46 597.50 646.90 C599.58 645.34 601.67 643.23 603.75 641.25 C605.83 639.27 607.92 636.77 610.00 635.00 C612.08 633.23 614.17 631.64 616.25 630.60 C618.33 629.56 620.42 629.06 622.50 628.75 C624.58 628.44 626.88 628.33 628.75 628.75 C630.62 629.17 632.08 630.00 633.75 631.25 C635.42 632.50 636.88 634.17 638.75 636.25 C640.62 638.33 642.92 641.04 645.00 643.75 C647.08 646.46 650.21 651.04 651.25 652.50" fill="none" stroke="#c8707a" stroke-width="2.9" stroke-linecap="round" stroke-linejoin="round"/>
<path d="M556.25 632.50 C557.08 633.33 559.38 636.04 561.25 637.50 C563.12 638.96 565.42 640.42 567.50 641.25 C569.58 642.08 571.88 642.71 573.75 642.50 C575.62 642.29 577.08 641.25 578.75 640.00 C580.42 638.75 581.88 637.29 583.75 635.00 C585.62 632.71 587.92 629.38 590.00 626.25 C592.08 623.12 594.17 619.58 596.25 616.25 C598.33 612.92 600.42 609.38 602.50 606.25 C604.58 603.12 606.67 600.00 608.75 597.50 C610.83 595.00 612.92 592.82 615.00 591.25 C617.08 589.68 619.58 588.10 621.25 588.10 C622.92 588.10 623.33 589.48 625.00 591.25 C626.67 593.02 629.17 596.46 631.25 598.75 C633.33 601.04 635.62 602.50 637.50 605.00 C639.38 607.50 640.83 610.62 642.50 613.75 C644.17 616.88 646.04 620.94 647.50 623.75 C648.96 626.56 650.62 629.46 651.25 630.60" fill="none" stroke="#f4c20d" stroke-width="2.9" stroke-linecap="round" stroke-linejoin="round"/>
<path d="M556.25 654.40 C557.08 654.60 559.38 655.50 561.25 655.60 C563.12 655.70 565.42 655.73 567.50 655.00 C569.58 654.27 571.88 653.12 573.75 651.25 C575.62 649.38 577.08 645.83 578.75 643.75 C580.42 641.67 582.29 639.48 583.75 638.75 C585.21 638.02 585.83 638.36 587.50 639.40 C589.17 640.44 591.67 643.23 593.75 645.00 C595.83 646.77 597.92 648.54 600.00 650.00 C602.08 651.46 604.17 652.92 606.25 653.75 C608.33 654.58 610.42 655.11 612.50 655.00 C614.58 654.89 616.88 654.35 618.75 653.10 C620.62 651.85 622.08 649.58 623.75 647.50 C625.42 645.42 627.08 641.95 628.75 640.60 C630.42 639.25 631.88 639.08 633.75 639.40 C635.62 639.72 637.92 641.15 640.00 642.50 C642.08 643.85 644.38 645.83 646.25 647.50 C648.12 649.17 650.42 651.67 651.25 652.50" fill="none" stroke="#0f86c6" stroke-width="2.9" stroke-linecap="round" stroke-linejoin="round"/>
<line x1="696.8" y1="547.00" x2="794.2" y2="547.00" stroke="#dddddd" stroke-width="1.2"/>
<text x="686.8" y="551.60" text-anchor="end" class="yl">75</text>
<line x1="696.8" y1="582.20" x2="794.2" y2="582.20" stroke="#dddddd" stroke-width="1.2"/>
<text x="686.8" y="586.80" text-anchor="end" class="yl">60</text>
<line x1="696.8" y1="617.40" x2="794.2" y2="617.40" stroke="#dddddd" stroke-width="1.2"/>
<text x="686.8" y="622.00" text-anchor="end" class="yl">45</text>
<line x1="696.8" y1="652.60" x2="794.2" y2="652.60" stroke="#dddddd" stroke-width="1.2"/>
<text x="686.8" y="657.20" text-anchor="end" class="yl">30</text>
<line x1="696.8" y1="687.80" x2="794.2" y2="687.80" stroke="#dddddd" stroke-width="1.2"/>
<text x="686.8" y="692.40" text-anchor="end" class="yl">15</text>
<line x1="696.8" y1="723.00" x2="794.2" y2="723.00" stroke="#dddddd" stroke-width="1.2"/>
<text x="686.8" y="727.60" text-anchor="end" class="yl">0</text>
<line x1="696.80" y1="547.0" x2="696.80" y2="723.0" stroke="#dddddd" stroke-width="1.2"/>
<line x1="721.15" y1="547.0" x2="721.15" y2="723.0" stroke="#dddddd" stroke-width="1.2"/>
<line x1="745.50" y1="547.0" x2="745.50" y2="723.0" stroke="#dddddd" stroke-width="1.2"/>
<line x1="769.85" y1="547.0" x2="769.85" y2="723.0" stroke="#dddddd" stroke-width="1.2"/>
<line x1="794.20" y1="547.0" x2="794.20" y2="723.0" stroke="#dddddd" stroke-width="1.2"/>
<line x1="696.8" y1="723.5" x2="794.2" y2="723.5" stroke="#3a3a3a" stroke-width="1.6"/>
<line x1="696.80" y1="723.0" x2="696.80" y2="726.5" stroke="#3a3a3a" stroke-width="1.3"/>
<line x1="721.15" y1="723.0" x2="721.15" y2="726.5" stroke="#3a3a3a" stroke-width="1.3"/>
<line x1="745.50" y1="723.0" x2="745.50" y2="726.5" stroke="#3a3a3a" stroke-width="1.3"/>
<line x1="769.85" y1="723.0" x2="769.85" y2="726.5" stroke="#3a3a3a" stroke-width="1.3"/>
<line x1="794.20" y1="723.0" x2="794.20" y2="726.5" stroke="#3a3a3a" stroke-width="1.3"/>
<text x="699.10" y="739.0" text-anchor="middle" class="xl">12</text>
<text x="699.10" y="751.6" text-anchor="middle" class="xl">am</text>
<text x="723.45" y="739.0" text-anchor="middle" class="xl">6</text>
<text x="723.45" y="751.6" text-anchor="middle" class="xl">am</text>
<text x="747.80" y="739.0" text-anchor="middle" class="xl">12</text>
<text x="747.80" y="751.6" text-anchor="middle" class="xl">pm</text>
<text x="772.15" y="739.0" text-anchor="middle" class="xl">6</text>
<text x="772.15" y="751.6" text-anchor="middle" class="xl">pm</text>
<text x="726.4" y="536.9" class="ct" textLength="36.3" lengthAdjust="spacingAndGlyphs">Texas</text>
<path d="M698.25 648.90 C699.06 649.60 701.36 652.07 703.10 653.10 C704.84 654.13 706.85 654.68 708.70 655.10 C710.55 655.52 712.35 656.05 714.20 655.60 C716.05 655.15 718.18 654.10 719.80 652.40 C721.42 650.70 722.28 647.15 723.90 645.40 C725.52 643.65 727.65 642.93 729.50 641.90 C731.35 640.87 733.15 640.35 735.00 639.20 C736.85 638.05 738.50 636.28 740.60 635.00 C742.70 633.72 745.28 632.54 747.60 631.50 C749.92 630.46 752.20 629.67 754.50 628.75 C756.80 627.83 759.32 626.69 761.40 626.00 C763.48 625.31 765.15 624.48 767.00 624.60 C768.85 624.72 770.65 626.35 772.50 626.70 C774.35 627.05 776.23 626.02 778.10 626.70 C779.97 627.38 782.08 628.95 783.70 630.80 C785.32 632.65 786.42 635.72 787.80 637.80 C789.18 639.88 791.30 642.38 792.00 643.30" fill="none" stroke="#8cc56c" stroke-width="2.9" stroke-linecap="round" stroke-linejoin="round"/>
<path d="M698.25 643.30 C699.06 644.00 701.36 646.33 703.10 647.50 C704.84 648.67 706.85 649.72 708.70 650.30 C710.55 650.88 712.35 651.35 714.20 651.00 C716.05 650.65 718.18 649.72 719.80 648.20 C721.42 646.68 722.28 643.52 723.90 641.90 C725.52 640.28 727.65 639.65 729.50 638.50 C731.35 637.35 733.15 636.52 735.00 635.00 C736.85 633.48 738.50 631.48 740.60 629.40 C742.70 627.32 745.52 624.47 747.60 622.50 C749.68 620.53 751.25 618.98 753.10 617.60 C754.95 616.22 756.85 615.00 758.70 614.20 C760.55 613.40 762.35 612.57 764.20 612.80 C766.05 613.03 767.95 614.92 769.80 615.60 C771.65 616.28 773.45 615.98 775.30 616.90 C777.15 617.82 779.05 619.23 780.90 621.10 C782.75 622.97 784.55 625.32 786.40 628.10 C788.25 630.88 791.07 636.18 792.00 637.80" fill="none" stroke="#c8707a" stroke-width="2.9" stroke-linecap="round" stroke-linejoin="round"/>
<path d="M698.25 616.25 C699.06 617.29 701.36 620.54 703.10 622.50 C704.84 624.46 706.85 626.62 708.70 628.00 C710.55 629.38 712.35 630.57 714.20 630.80 C716.05 631.03 718.29 630.08 719.80 629.40 C721.31 628.72 722.10 627.38 723.25 626.70 C724.40 626.02 725.43 626.70 726.70 625.30 C727.98 623.90 729.28 621.55 730.90 618.30 C732.52 615.05 734.55 609.73 736.40 605.80 C738.25 601.87 740.13 598.17 742.00 594.70 C743.87 591.23 745.75 588.00 747.60 585.00 C749.45 582.00 751.25 578.78 753.10 576.70 C754.95 574.62 756.85 573.43 758.70 572.50 C760.55 571.57 762.35 570.87 764.20 571.10 C766.05 571.33 767.95 572.28 769.80 573.90 C771.65 575.52 773.45 578.48 775.30 580.80 C777.15 583.12 779.27 585.72 780.90 587.80 C782.53 589.88 783.72 591.22 785.10 593.30 C786.48 595.38 788.05 597.87 789.20 600.30 C790.35 602.73 791.53 606.63 792.00 607.90" fill="none" stroke="#f4c20d" stroke-width="2.9" stroke-linecap="round" stroke-linejoin="round"/>
<path d="M698.25 636.40 C699.06 636.87 701.36 638.50 703.10 639.20 C704.84 639.90 706.85 640.37 708.70 640.60 C710.55 640.83 712.35 641.07 714.20 640.60 C716.05 640.13 717.95 639.67 719.80 637.80 C721.65 635.93 723.68 631.83 725.30 629.40 C726.92 626.97 728.10 624.35 729.50 623.20 C730.90 622.05 732.08 622.38 733.70 622.50 C735.32 622.62 737.35 623.20 739.20 623.90 C741.05 624.60 742.95 625.67 744.80 626.70 C746.65 627.73 748.45 629.07 750.30 630.10 C752.15 631.13 754.05 632.08 755.90 632.90 C757.75 633.72 759.55 634.65 761.40 635.00 C763.25 635.35 765.15 635.70 767.00 635.00 C768.85 634.30 770.88 632.18 772.50 630.80 C774.12 629.42 775.30 627.62 776.70 626.70 C778.10 625.78 779.50 625.30 780.90 625.30 C782.30 625.30 783.72 626.02 785.10 626.70 C786.48 627.38 787.93 628.37 789.20 629.40 C790.47 630.43 792.12 632.32 792.70 632.90" fill="none" stroke="#0f86c6" stroke-width="2.9" stroke-linecap="round" stroke-linejoin="round"/>
<line x1="839.0" y1="547.00" x2="936.4" y2="547.00" stroke="#dddddd" stroke-width="1.2"/>
<text x="829.0" y="551.60" text-anchor="end" class="yl">180</text>
<line x1="839.0" y1="576.33" x2="936.4" y2="576.33" stroke="#dddddd" stroke-width="1.2"/>
<text x="829.0" y="580.93" text-anchor="end" class="yl">150</text>
<line x1="839.0" y1="605.67" x2="936.4" y2="605.67" stroke="#dddddd" stroke-width="1.2"/>
<text x="829.0" y="610.27" text-anchor="end" class="yl">120</text>
<line x1="839.0" y1="635.00" x2="936.4" y2="635.00" stroke="#dddddd" stroke-width="1.2"/>
<text x="829.0" y="639.60" text-anchor="end" class="yl">90</text>
<line x1="839.0" y1="664.33" x2="936.4" y2="664.33" stroke="#dddddd" stroke-width="1.2"/>
<text x="829.0" y="668.93" text-anchor="end" class="yl">60</text>
<line x1="839.0" y1="693.67" x2="936.4" y2="693.67" stroke="#dddddd" stroke-width="1.2"/>
<text x="829.0" y="698.27" text-anchor="end" class="yl">30</text>
<line x1="839.0" y1="723.00" x2="936.4" y2="723.00" stroke="#dddddd" stroke-width="1.2"/>
<text x="829.0" y="727.60" text-anchor="end" class="yl">0</text>
<line x1="839.00" y1="547.0" x2="839.00" y2="723.0" stroke="#dddddd" stroke-width="1.2"/>
<line x1="863.35" y1="547.0" x2="863.35" y2="723.0" stroke="#dddddd" stroke-width="1.2"/>
<line x1="887.70" y1="547.0" x2="887.70" y2="723.0" stroke="#dddddd" stroke-width="1.2"/>
<line x1="912.05" y1="547.0" x2="912.05" y2="723.0" stroke="#dddddd" stroke-width="1.2"/>
<line x1="936.40" y1="547.0" x2="936.40" y2="723.0" stroke="#dddddd" stroke-width="1.2"/>
<line x1="839.0" y1="723.5" x2="936.4" y2="723.5" stroke="#3a3a3a" stroke-width="1.6"/>
<line x1="839.00" y1="723.0" x2="839.00" y2="726.5" stroke="#3a3a3a" stroke-width="1.3"/>
<line x1="863.35" y1="723.0" x2="863.35" y2="726.5" stroke="#3a3a3a" stroke-width="1.3"/>
<line x1="887.70" y1="723.0" x2="887.70" y2="726.5" stroke="#3a3a3a" stroke-width="1.3"/>
<line x1="912.05" y1="723.0" x2="912.05" y2="726.5" stroke="#3a3a3a" stroke-width="1.3"/>
<line x1="936.40" y1="723.0" x2="936.40" y2="726.5" stroke="#3a3a3a" stroke-width="1.3"/>
<text x="841.30" y="739.0" text-anchor="middle" class="xl">12</text>
<text x="841.30" y="751.6" text-anchor="middle" class="xl">am</text>
<text x="865.65" y="739.0" text-anchor="middle" class="xl">6</text>
<text x="865.65" y="751.6" text-anchor="middle" class="xl">am</text>
<text x="890.00" y="739.0" text-anchor="middle" class="xl">12</text>
<text x="890.00" y="751.6" text-anchor="middle" class="xl">pm</text>
<text x="914.35" y="739.0" text-anchor="middle" class="xl">6</text>
<text x="914.35" y="751.6" text-anchor="middle" class="xl">pm</text>
<text x="853.1" y="536.9" class="ct" textLength="62.1" lengthAdjust="spacingAndGlyphs">Southeast</text>
<path d="M839.60 650.60 C840.52 651.28 843.25 653.60 845.10 654.70 C846.95 655.80 848.85 656.73 850.70 657.20 C852.55 657.67 854.35 658.03 856.20 657.50 C858.05 656.97 859.95 655.85 861.80 654.00 C863.65 652.15 865.45 648.60 867.30 646.40 C869.15 644.20 871.05 642.30 872.90 640.80 C874.75 639.30 876.55 638.43 878.40 637.40 C880.25 636.37 882.13 635.53 884.00 634.60 C885.87 633.67 887.75 632.62 889.60 631.80 C891.45 630.98 893.25 630.40 895.10 629.70 C896.95 629.00 898.85 628.18 900.70 627.60 C902.55 627.02 904.35 626.48 906.20 626.25 C908.05 626.02 909.95 626.02 911.80 626.25 C913.65 626.48 915.45 627.38 917.30 627.60 C919.15 627.83 921.05 626.55 922.90 627.60 C924.75 628.65 926.55 631.00 928.40 633.90 C930.25 636.80 933.07 643.15 934.00 645.00" fill="none" stroke="#8cc56c" stroke-width="2.9" stroke-linecap="round" stroke-linejoin="round"/>
<path d="M839.60 645.70 C840.52 646.52 843.25 649.33 845.10 650.60 C846.95 651.87 848.85 652.73 850.70 653.30 C852.55 653.87 854.35 654.34 856.20 654.00 C858.05 653.66 859.95 652.98 861.80 651.25 C863.65 649.52 865.45 645.79 867.30 643.60 C869.15 641.41 871.05 639.72 872.90 638.10 C874.75 636.48 876.55 635.30 878.40 633.90 C880.25 632.50 882.13 631.08 884.00 629.70 C885.87 628.32 887.75 626.87 889.60 625.60 C891.45 624.33 893.25 623.15 895.10 622.10 C896.95 621.05 898.85 619.93 900.70 619.30 C902.55 618.67 904.35 618.18 906.20 618.30 C908.05 618.42 909.95 619.37 911.80 620.00 C913.65 620.63 915.45 621.17 917.30 622.10 C919.15 623.03 921.05 623.87 922.90 625.60 C924.75 627.33 926.55 630.08 928.40 632.50 C930.25 634.92 933.07 638.83 934.00 640.10" fill="none" stroke="#c8707a" stroke-width="2.9" stroke-linecap="round" stroke-linejoin="round"/>
<path d="M839.60 624.90 C840.52 625.93 843.25 629.13 845.10 631.10 C846.95 633.07 848.85 635.43 850.70 636.70 C852.55 637.98 854.35 638.52 856.20 638.75 C858.05 638.98 859.95 638.91 861.80 638.10 C863.65 637.29 865.45 635.98 867.30 633.90 C869.15 631.82 871.05 629.07 872.90 625.60 C874.75 622.13 876.55 617.27 878.40 613.10 C880.25 608.93 882.13 604.32 884.00 600.60 C885.87 596.88 887.75 593.58 889.60 590.80 C891.45 588.02 893.25 585.63 895.10 583.90 C896.95 582.17 898.85 581.10 900.70 580.40 C902.55 579.70 904.35 579.35 906.20 579.70 C908.05 580.05 909.95 580.88 911.80 582.50 C913.65 584.12 915.45 587.32 917.30 589.40 C919.15 591.48 921.27 593.25 922.90 595.00 C924.53 596.75 925.72 597.70 927.10 599.90 C928.48 602.10 929.93 605.43 931.20 608.20 C932.47 610.97 934.12 615.12 934.70 616.50" fill="none" stroke="#f4c20d" stroke-width="2.9" stroke-linecap="round" stroke-linejoin="round"/>
<path d="M839.60 631.10 C840.52 631.68 843.25 633.67 845.10 634.60 C846.95 635.53 848.85 636.40 850.70 636.70 C852.55 637.00 854.35 636.98 856.20 636.40 C858.05 635.82 859.95 635.00 861.80 633.20 C863.65 631.40 865.45 628.15 867.30 625.60 C869.15 623.05 871.27 619.42 872.90 617.90 C874.53 616.38 875.48 616.38 877.10 616.50 C878.72 616.62 880.52 617.43 882.60 618.60 C884.68 619.77 887.28 622.00 889.60 623.50 C891.92 625.00 894.20 626.52 896.50 627.60 C898.80 628.68 901.32 629.65 903.40 630.00 C905.48 630.35 907.13 630.55 909.00 629.70 C910.87 628.85 912.75 626.75 914.60 624.90 C916.45 623.05 918.25 619.53 920.10 618.60 C921.95 617.67 923.85 618.48 925.70 619.30 C927.55 620.12 929.70 622.23 931.20 623.50 C932.70 624.77 934.12 626.33 934.70 626.90" fill="none" stroke="#0f86c6" stroke-width="2.9" stroke-linecap="round" stroke-linejoin="round"/>
<!-- download bar -->
<rect x="368.5" y="685" width="625" height="35" fill="#ffffff"/>
<line x1="368.5" y1="685.5" x2="993.5" y2="685.5" stroke="#dcdcdc" stroke-width="1"/>
<text x="371.2" y="708.3" class="dl" textLength="44.8" lengthAdjust="spacingAndGlyphs">nv 43....pdf</text>
<path d="M437 706.5 L440.7 702.6 L444.4 706.5" fill="none" stroke="#555" stroke-width="1.3"/>
<line x1="459" y1="690" x2="459" y2="720" stroke="#dcdcdc" stroke-width="1"/>
<g transform="translate(472,697)">
<path d="M2.5 0.5 H9.5 L11.8 2.8 V12.5 H2.5 Z" fill="#fff" stroke="#9c7276" stroke-width="1"/>
<rect x="0" y="2" width="7.8" height="3" fill="#a8172e"/>
<rect x="9" y="3" width="2.5" height="2" fill="#8a8a8a"/>
<path d="M4.5 6.2 C6 5 7.5 5.5 6.5 7.5 C5.8 9 4.8 10 4.5 11 M4.5 11 C6.5 9.8 8.5 9.5 11 9.8" fill="none" stroke="#9e2b3a" stroke-width="1.1"/>
</g>
<text x="494.6" y="708.6" class="dl" textLength="97.6" lengthAdjust="spacingAndGlyphs">2019-11-15 Inv 43....pdf</text>
<path d="M613.2 706.5 L616.9 702.6 L620.6 706.5" fill="none" stroke="#555" stroke-width="1.3"/>
<line x1="635" y1="690" x2="635" y2="720" stroke="#dcdcdc" stroke-width="1"/>
<g transform="translate(648,697)">
<path d="M2.5 0.5 H9.5 L11.8 2.8 V12.5 H2.5 Z" fill="#fff" stroke="#9c7276" stroke-width="1"/>
<rect x="0" y="2" width="7.8" height="3" fill="#a8172e"/>
<rect x="9" y="3" width="2.5" height="2" fill="#8a8a8a"/>
<path d="M4.5 6.2 C6 5 7.5 5.5 6.5 7.5 C5.8 9 4.8 10 4.5 11 M4.5 11 C6.5 9.8 8.5 9.5 11 9.8" fill="none" stroke="#9e2b3a" stroke-width="1.1"/>
</g>
<text x="670.1" y="708.6" class="dl" textLength="98.2" lengthAdjust="spacingAndGlyphs">2019-10-30 Inv 42....pdf</text>
<path d="M790 706.5 L793.7 702.6 L797.4 706.5" fill="none" stroke="#555" stroke-width="1.3"/>
<line x1="811.5" y1="690" x2="811.5" y2="720" stroke="#dcdcdc" stroke-width="1"/>
<g transform="translate(824,697)">
<path d="M3 0.5 H10.5 L12.5 2.5 V12.5 H3 Z" fill="#dde6f6" stroke="#6c7896" stroke-width="1"/>
<rect x="0.5" y="1.2" width="7.6" height="7.6" fill="#4f8f4f" stroke="#5d7a5d" stroke-width="0.8"/>
<path d="M2 3 L6.5 7.2 M6.5 3 L2 7.2" stroke="#b8eab0" stroke-width="1.2"/>
</g>
<text x="846.4" y="708.6" class="dl" textLength="99.8" lengthAdjust="spacingAndGlyphs">CatalystMLP_Infrast....xls</text>
<path d="M966 706.5 L969.7 702.6 L973.4 706.5" fill="none" stroke="#555" stroke-width="1.3"/>
<line x1="987.5" y1="690" x2="987.5" y2="720" stroke="#dcdcdc" stroke-width="1"/>
</svg>
</body></html>
